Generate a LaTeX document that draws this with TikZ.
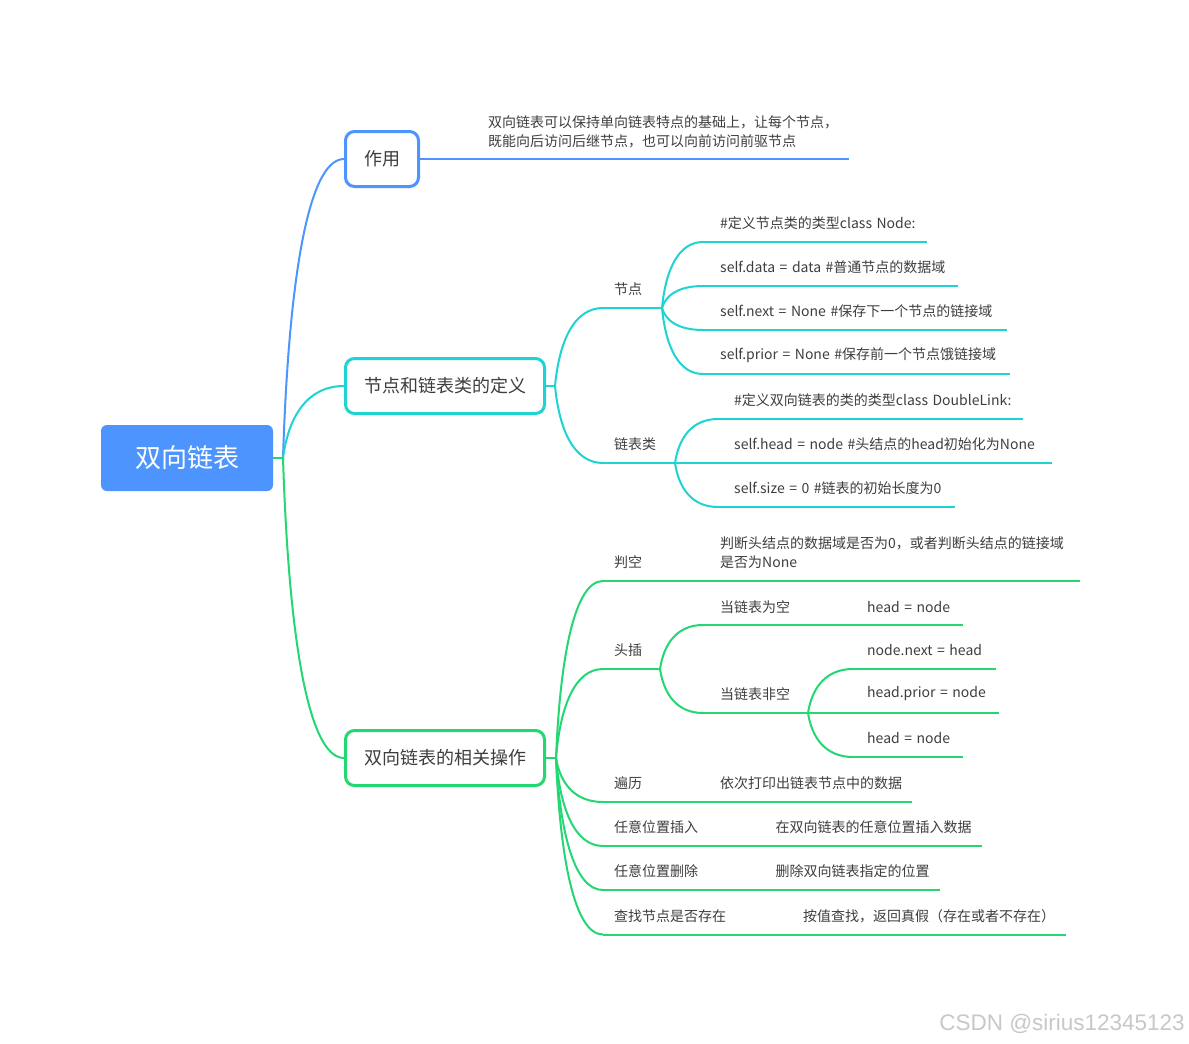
\documentclass[tikz,border=0pt]{standalone}
\usepackage{fontspec}
\setmainfont[WordSpace=1.45]{Noto Sans CJK SC}
\newfontfamily\wmfont{Liberation Sans}
\usetikzlibrary{calc}
\definecolor{mmblue}{RGB}{77,148,255}
\definecolor{mmcyan}{RGB}{31,211,211}
\definecolor{mmgreen}{RGB}{35,215,115}
\definecolor{mmtext}{RGB}{62,62,62}
\definecolor{mmmark}{RGB}{200,200,200}

% smooth mind-map branch: steep start, flat landing on the target
\newcommand\mmlink[3]{%
  \draw[#1] let \p1=(#2), \p2=(#3) in
    (\p1) .. controls ({\x1+0.09*(\x2-\x1)},{\y1+0.58*(\y2-\y1)})
             and ({\x1+0.4*(\x2-\x1)},\y2) .. (\p2);}

\begin{document}
\begin{tikzpicture}[x=1pt,y=-1pt,
  box/.style={draw,line width=3pt,rounded corners=9pt,fill=white,
    minimum height=55pt,inner xsep=0pt,text=mmtext,
    font=\fontsize{18}{22}\selectfont},
  lbl/.style={anchor=west,inner sep=0pt,text=mmtext,align=left,
    font=\fontsize{14}{19}\selectfont},
  link/.style={line width=2pt},
]
\fill[white] (0,0) rectangle (1189,1044);

% ---- root and first-level topics
\node[fill=mmblue,rounded corners=6pt,minimum width=172pt,minimum height=66pt,
  text=white,font=\fontsize{26}{30}\selectfont] (root) at (187,458) {双向链表};
\node[box,draw=mmblue,minimum width=73pt] (a) at (382,159) {作用};
\node[box,draw=mmcyan,minimum width=199pt] (b) at (445,386) {节点和链表类的定义};
\node[box,draw=mmgreen,minimum width=199pt] (c) at (445,758) {双向链表的相关操作};

\coordinate (r0) at (283,458);
\mmlink{link,mmblue}{r0}{a.west}
\mmlink{link,mmcyan}{r0}{b.west}
\mmlink{link,mmgreen}{r0}{c.west}
\draw[link,mmgreen] (root.east) -- (r0);

% ---- 作用
\coordinate (ae) at (849,159);
\draw[link,mmblue] (a.east) -- (ae);
\node[lbl] (adesc) at (488,132) {双向链表可以保持单向链表特点的基础上，让每个节点，\\既能向后访问后继节点，也可以向前访问前驱节点};

% ---- 节点和链表类的定义
\coordinate (b0) at (555,386);
\draw[link,mmcyan] (b.east) -- (b0);
\coordinate (n1) at (603,308); \coordinate (n2) at (662,308);
\coordinate (k1) at (603,463); \coordinate (k2) at (675,463);
\mmlink{link,mmcyan}{b0}{n1}
\mmlink{link,mmcyan}{b0}{k1}
\draw[link,mmcyan] (n1) -- (n2);
\draw[link,mmcyan] (k1) -- (k2);
\node[lbl] (tn) at (614,289) {节点};
\node[lbl] (tk) at (614,444) {链表类};

\coordinate (na1) at (703,242); \coordinate (na2) at (927,242);
\coordinate (nb1) at (703,286); \coordinate (nb2) at (958,286);
\coordinate (nc1) at (703,330); \coordinate (nc2) at (1007,330);
\coordinate (nd1) at (703,374); \coordinate (nd2) at (1010,374);
\foreach \s in {na,nb,nc,nd}{
  \mmlink{link,mmcyan}{n2}{\s1}
  \draw[link,mmcyan] (\s1) -- (\s2);
}
\node[lbl] (tna) at (720,223) {\#定义节点类的类型class Node:};
\node[lbl] (tnb) at (720,267) {self.data = data \#普通节点的数据域};
\node[lbl] (tnc) at (720,311) {self.next = None \#保存下一个节点的链接域};
\node[lbl] (tnd) at (720,355) {self.prior = None \#保存前一个节点饿链接域};

\coordinate (ka1) at (718,419); \coordinate (ka2) at (1023,419);
\coordinate (kb2) at (1052,463);
\coordinate (kc1) at (718,507); \coordinate (kc2) at (955,507);
\mmlink{link,mmcyan}{k2}{ka1}
\mmlink{link,mmcyan}{k2}{kc1}
\draw[link,mmcyan] (ka1) -- (ka2);
\draw[link,mmcyan] (k2) -- (kb2);
\draw[link,mmcyan] (kc1) -- (kc2);
\node[lbl] (tka) at (734,400) {\#定义双向链表的类的类型class DoubleLink:};
\node[lbl] (tkb) at (734,444) {self.head = node \#头结点的head初始化为None};
\node[lbl] (tkc) at (734,488) {self.size = 0 \#链表的初始长度为0};

% ---- 双向链表的相关操作
\coordinate (c0) at (556,758);
\coordinate (pk1) at (603,581);   \coordinate (pk2) at (1080,581);
\coordinate (tc1) at (603,669);   \coordinate (tc2) at (660,669);
\coordinate (bl1) at (603,802);   \coordinate (bl2) at (912,802);
\coordinate (cr1) at (603,846);   \coordinate (cr2) at (982,846);
\coordinate (sc1) at (603,890);   \coordinate (sc2) at (940,890);
\coordinate (cz1) at (603,934.5); \coordinate (cz2) at (1066,934.5);
\foreach \s in {pk,tc,bl,cr,sc,cz}{
  \mmlink{link,mmgreen}{c0}{\s1}
  \draw[link,mmgreen] (\s1) -- (\s2);
}
\draw[link,mmgreen] (c.east) -- (c0);

\node[lbl] (tpk) at (614,562.5) {判空};
\node[lbl] (tpkd) at (720,552.5) {判断头结点的数据域是否为0，或者判断头结点的链接域\\是否为None};

\node[lbl] (ttc) at (614,650) {头插};
\coordinate (ek1) at (703,625); \coordinate (ek2) at (963,625);
\coordinate (fk1) at (703,713); \coordinate (fk2) at (808,713);
\mmlink{link,mmgreen}{tc2}{ek1}
\mmlink{link,mmgreen}{tc2}{fk1}
\draw[link,mmgreen] (ek1) -- (ek2);
\draw[link,mmgreen] (fk1) -- (fk2);
\node[lbl] (tek) at (720,607) {当链表为空};
\node[lbl] (tekd) at (867,607) {head = node};
\node[lbl] (tfk) at (720,694) {当链表非空};

\coordinate (fa1) at (853,669); \coordinate (fa2) at (996,669);
\coordinate (fb2) at (999,713);
\coordinate (fc1) at (853,757); \coordinate (fc2) at (963,757);
\mmlink{link,mmgreen}{fk2}{fa1}
\mmlink{link,mmgreen}{fk2}{fc1}
\draw[link,mmgreen] (fa1) -- (fa2);
\draw[link,mmgreen] (fk2) -- (fb2);
\draw[link,mmgreen] (fc1) -- (fc2);
\node[lbl] (tfa) at (867,650) {node.next = head};
\node[lbl] (tfb) at (867,694) {head.prior = node};
\node[lbl] (tfc) at (867,738) {head = node};

\node[lbl] (tbl) at (614,783) {遍历};
\node[lbl] (tbld) at (720,783) {依次打印出链表节点中的数据};
\node[lbl] (tcr) at (614,827.5) {任意位置插入};
\node[lbl] (tcrd) at (775.5,827.5) {在双向链表的任意位置插入数据};
\node[lbl] (tsc) at (614,871.5) {任意位置删除};
\node[lbl] (tscd) at (775.5,871.5) {删除双向链表指定的位置};
\node[lbl] (tcz) at (614,916) {查找节点是否存在};
\node[lbl] (tczd) at (803,916) {按值查找，返回真假（存在或者不存在）};

% ---- watermark
\node[anchor=east,inner sep=0pt,text=mmmark,font=\wmfont\fontsize{22.5}{26}\selectfont]
  (wm) at (1185,1024) {CSDN @sirius12345123};
\end{tikzpicture}
\end{document}
